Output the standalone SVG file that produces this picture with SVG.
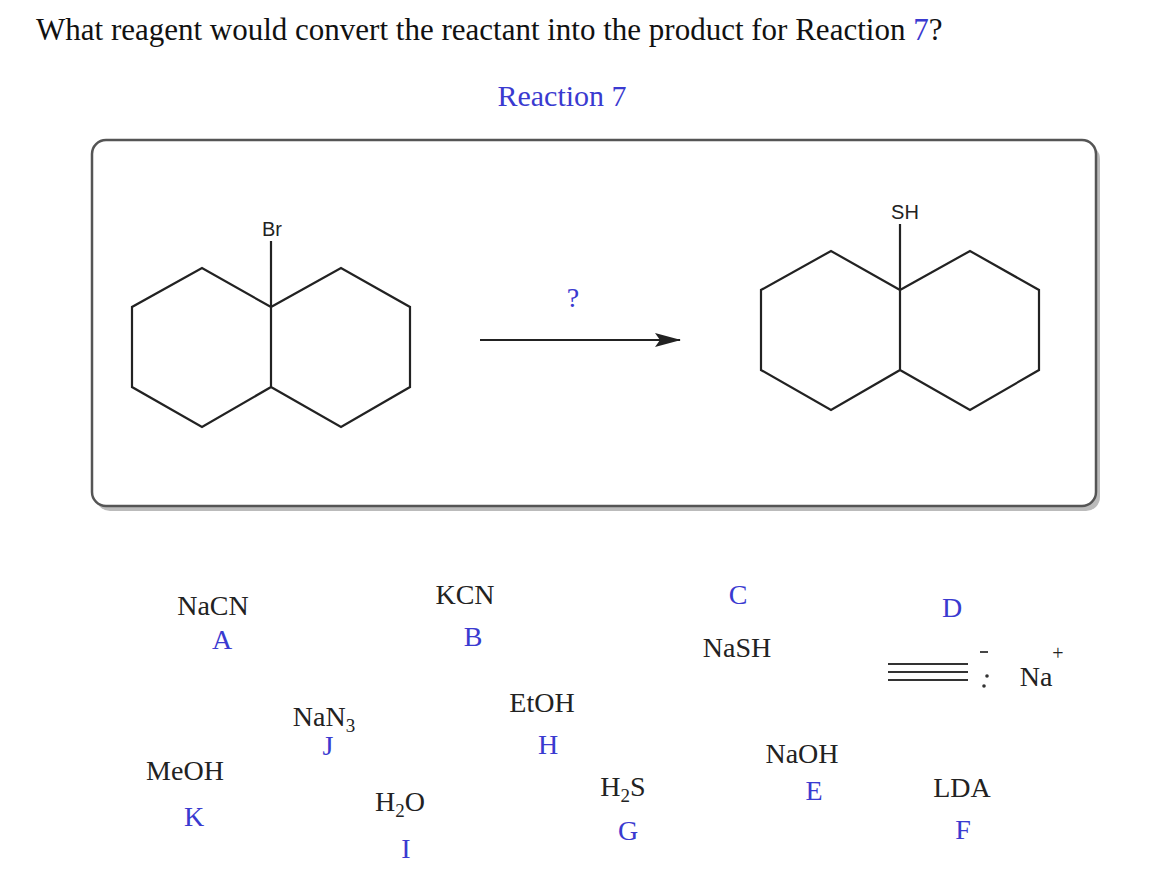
<svg xmlns="http://www.w3.org/2000/svg" width="1150" height="892" viewBox="0 0 1150 892">
<style>
.t{font-family:"Liberation Serif",serif;font-size:28px;fill:#222;text-anchor:middle}
.b{fill:#3a3ad0}
.s{font-family:"Liberation Sans",sans-serif;font-size:20px;fill:#222;text-anchor:middle}
.m{fill:none;stroke:#222;stroke-width:2.2;stroke-linejoin:miter}
</style>
<defs><marker id="ah" markerWidth="26" markerHeight="14" refX="25" refY="7" orient="auto" markerUnits="userSpaceOnUse"><path d="M0,0 L26,7 L0,14 L5,7z" fill="#222"/></marker></defs>
<rect width="1150" height="892" fill="#fff"/>
<text x="36" y="40" style="font-family:'Liberation Serif',serif;font-size:31px;fill:#111">What reagent would convert the reactant into the product for Reaction <tspan fill="#3a3ad0">7</tspan>?</text>
<text x="562" y="106" class="t b" style="font-size:30px">Reaction 7</text>
<rect x="96" y="145" width="1004" height="366" rx="14" fill="#bbb"/>
<rect x="92" y="140" width="1004" height="366" rx="14" fill="#fff" stroke="#555" stroke-width="2.5"/>
<g id="reactant">
<path class="m" d="M271,307 L202,268 L132,307 L132,387 L202,427 L271,387 Z M271,307 L341,268 L410,307 L410,387 L341,427 L271,387 M271,307 L271,241"/>
<text x="272" y="236" class="s">Br</text>
</g>
<g id="product">
<path class="m" d="M900,290 L831,251 L761,290 L761,370 L831,410 L900,370 Z M900,290 L970,251 L1039,290 L1039,370 L970,410 L900,370 M900,290 L900,224"/>
<text x="905" y="219" class="s">SH</text>
</g>
<g id="connectors">
<line x1="480" y1="340" x2="680" y2="340" stroke="#222" stroke-width="2.2" marker-end="url(#ah)"/>
<text x="573" y="307" class="t b">?</text>
</g>
<g id="options">
<text x="213" y="615" class="t">NaCN</text><text x="222" y="649" class="t b">A</text>
<text x="465" y="604" class="t">KCN</text><text x="473" y="646" class="t b">B</text>
<text x="738" y="604" class="t b">C</text><text x="737" y="657" class="t">NaSH</text>
<text x="952" y="617" class="t b">D</text>
<g stroke="#333" stroke-width="1.8"><line x1="888" y1="664" x2="968" y2="664"/><line x1="888" y1="672" x2="968" y2="672"/><line x1="888" y1="680" x2="968" y2="680"/></g>
<line x1="980" y1="652" x2="988" y2="652" stroke="#333" stroke-width="1.8"/>
<circle cx="987" cy="676" r="1.8" fill="#333"/><circle cx="984" cy="686" r="1.8" fill="#333"/>
<text x="1036" y="686" class="t">Na</text><text x="1058" y="660" class="t" style="font-size:20px">+</text>
<text x="324" y="726" class="t">NaN<tspan font-size="19" dy="6">3</tspan></text><text x="328" y="755" class="t b">J</text>
<text x="542" y="712" class="t">EtOH</text><text x="548" y="754" class="t b">H</text>
<text x="185" y="780" class="t">MeOH</text><text x="194" y="826" class="t b">K</text>
<text x="400" y="811" class="t">H<tspan font-size="19" dy="6">2</tspan><tspan dy="-6">O</tspan></text><text x="406" y="858" class="t b">I</text>
<text x="623" y="796" class="t">H<tspan font-size="19" dy="6">2</tspan><tspan dy="-6">S</tspan></text><text x="628" y="840" class="t b">G</text>
<text x="802" y="763" class="t">NaOH</text><text x="814" y="800" class="t b">E</text>
<text x="962" y="797" class="t">LDA</text><text x="963" y="839" class="t b">F</text>
</g>
</svg>
